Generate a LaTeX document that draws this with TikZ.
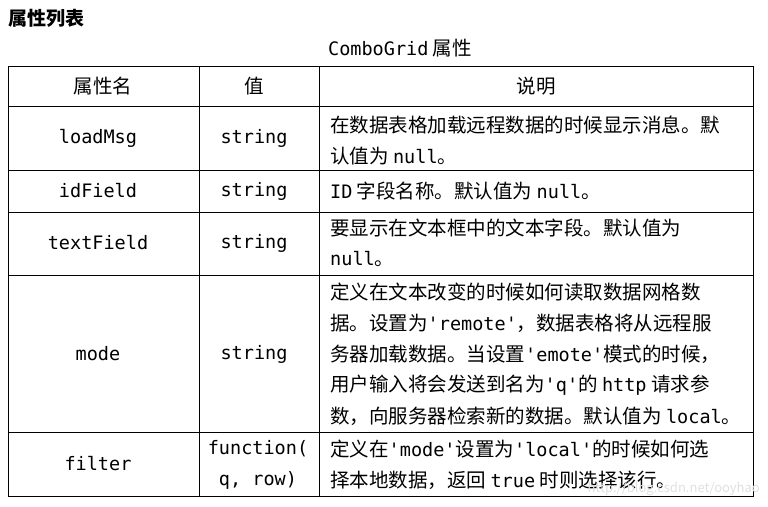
\documentclass[tikz,border=0pt]{standalone}
\usepackage{fontspec}
\setmainfont{Noto Sans CJK SC}
\newfontfamily\mono{DejaVu Sans Mono}[Scale=0.95]
\begin{document}
\begin{tikzpicture}[x=1pt,y=-1pt,
  grid/.style={line width=0.8pt,black},
  txt/.style={inner sep=0pt,anchor=west,font=\fontsize{19.5}{22}\selectfont},
  cell/.style={inner sep=0pt,font=\fontsize{19.5}{22}\selectfont},
  mcell/.style={inner sep=0pt,font=\mono\fontsize{19.5}{22}\selectfont}]
\useasboundingbox (0,0) rectangle (768,506);
\node[inner sep=0pt,anchor=west,font=\fontsize{19}{20}\selectfont\bfseries] (title) at (8,18) {属性列表};
\node[cell] (cap) at (400,48) {{\mono ComboGrid} 属性};
\draw[grid] (8,66) rectangle (753,496);
\foreach \y in {106,170,212,275,432} \draw[grid] (8,\y) -- (753,\y);
\draw[grid] (199,66) -- (199,496);
\draw[grid] (319,66) -- (319,496);
\node[cell] (h1) at (103,86) {属性名};
\node[cell] (h2) at (254,86) {值};
\node[cell] (h3) at (536,86) {说明};
\node[mcell] (n1) at (98,138) {loadMsg};
\node[mcell] (n2) at (98,191) {idField};
\node[mcell] (n3) at (98,243) {textField};
\node[mcell] (n4) at (98,354) {mode};
\node[mcell] (n5) at (98,464) {filter};
\node[mcell] (v1) at (254,138) {string};
\node[mcell] (v2) at (254,191) {string};
\node[mcell] (v3) at (254,243) {string};
\node[mcell] (v4) at (254,354) {string};
\node[mcell] (v5a) at (258,449) {function(};
\node[mcell] (v5b) at (258,480) {q, row)};
\node[txt] (d1a) at (330,125) {在数据表格加载远程数据的时候显示消息。默};
\node[txt] (d1b) at (330,156) {认值为 {\mono null}。};
\node[txt] (d2) at (330,191) {{\mono ID} 字段名称。默认值为 {\mono null}。};
\node[txt] (d3a) at (330,228) {要显示在文本框中的文本字段。默认值为};
\node[txt] (d3b) at (330,259) {{\mono null}。};
\node[txt] (d4a) at (330,292) {定义在文本改变的时候如何读取数据网格数};
\node[txt] (d4b) at (330,323) {据。设置为{\mono 'remote'}，数据表格将从远程服};
\node[txt] (d4c) at (330,354) {务器加载数据。当设置{\mono 'emote'}模式的时候，};
\node[txt] (d4d) at (330,385) {用户输入将会发送到名为{\mono 'q'}的 {\mono http} 请求参};
\node[txt] (d4e) at (330,416) {数，向服务器检索新的数据。默认值为 {\mono local}。};
\node[txt] (d5a) at (330,449) {定义在{\mono 'mode'}设置为{\mono 'local'}的时候如何选};
\node[txt] (d5b) at (330,480) {择本地数据，返回 {\mono true} 时则选择该行。};
\node[inner sep=0pt,anchor=east,text=black!12,font=\fontsize{13}{14}\selectfont] (wm) at (760,489) {http://blog.csdn.net/ooyhao};
\end{tikzpicture}
\end{document}
